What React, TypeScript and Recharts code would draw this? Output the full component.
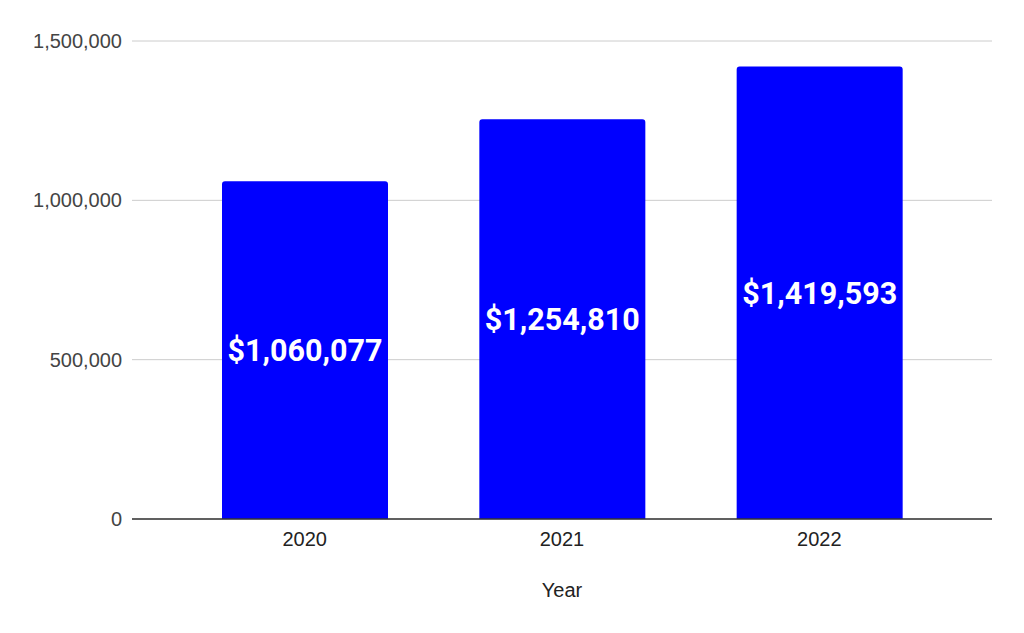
import { Bar, BarChart, CartesianGrid, LabelList, XAxis, YAxis } from "recharts";

const years = ["2020", "2021", "2022"];
const revenue = [1060077, 1254810, 1419593];
const yTicks = [0, 500000, 1000000, 1500000];

const data = years.map((year, i) => ({ year, revenue: revenue[i] }));

const axisFont = "Arial, 'Liberation Sans', sans-serif";

export default function App() {
	return (
		<div style={{ position: "absolute", left: 0, top: 0, width: 1024, height: 633, background: "#fff" }}>
			<BarChart
				width={1024}
				height={633}
				data={data}
				margin={{ top: 41, right: 32, left: 0, bottom: 0 }}
			>
				<CartesianGrid vertical={false} stroke="#cccccc" />
				<XAxis
					dataKey="year"
					height={114}
					padding={{ left: 44, right: 44 }}
					tickLine={false}
					tickMargin={7}
					axisLine={{ stroke: "#333333", strokeWidth: 1.5 }}
					tick={{ fontSize: 20, fill: "#222222", fontFamily: axisFont }}
					label={{
						value: "Year",
						position: "insideBottom",
						offset: 36,
						fontSize: 20,
						fill: "#222222",
						fontFamily: axisFont,
					}}
				/>
				<YAxis
					width={132}
					domain={[0, 1500000]}
					ticks={yTicks}
					tickLine={false}
					axisLine={false}
					tickMargin={4}
					tickFormatter={(v: number) => v.toLocaleString("en-US")}
					tick={{ fontSize: 20, fill: "#444444", fontFamily: axisFont }}
				/>
				<Bar dataKey="revenue" fill="#0000ff" barSize={166} radius={[3, 3, 0, 0]} isAnimationActive={false}>
					<LabelList
						dataKey="revenue"
						position="center"
						formatter={(v: number) => `$${Number(v).toLocaleString("en-US")}`}
						fill="#ffffff"
						fontSize={30.5}
						fontWeight="bold"
						fontFamily="Roboto, sans-serif"
					/>
				</Bar>
			</BarChart>
		</div>
	);
}
